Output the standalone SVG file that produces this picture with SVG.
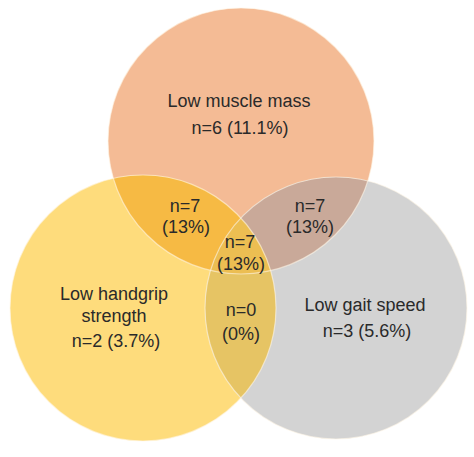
<svg xmlns="http://www.w3.org/2000/svg" width="474" height="457" viewBox="0 0 474 457">
<style>
text{font-family:"Liberation Sans",Arial,sans-serif;font-size:18px;fill:#2a2a2a;text-anchor:middle}
.edge{fill:none;stroke:#fff6e8;stroke-opacity:0.6;stroke-width:1.2}
</style>
<defs>
<clipPath id="clipA"><circle cx="241" cy="141" r="133"/></clipPath>
<clipPath id="clipB"><circle cx="143" cy="308" r="133"/></clipPath>
</defs>
<rect width="474" height="457" fill="#ffffff"/>
<g id="regions">
<circle id="mass" cx="241" cy="141" r="133" fill="#F4BB95"/>
<circle id="grip" cx="143" cy="308" r="133" fill="#FEDC7C"/>
<circle id="gait" cx="336" cy="308" r="131" fill="#D3D3D3"/>
<circle cx="143" cy="308" r="133" fill="#F6BA44" clip-path="url(#clipA)"/>
<circle cx="336" cy="308" r="131" fill="#C9A999" clip-path="url(#clipA)"/>
<circle cx="336" cy="308" r="131" fill="#E6C464" clip-path="url(#clipB)"/>
<g clip-path="url(#clipA)"><circle cx="336" cy="308" r="131" fill="#ECBE52" clip-path="url(#clipB)"/></g>
<circle class="edge" cx="241" cy="141" r="133"/>
<circle class="edge" cx="143" cy="308" r="133"/>
<circle class="edge" cx="336" cy="308" r="131"/>
</g>
<g id="labels">
<text x="239" y="107">Low muscle mass</text>
<text x="240" y="134">n=6 (11.1%)</text>
<text x="185" y="212">n=7</text>
<text x="186" y="233">(13%)</text>
<text x="310" y="212">n=7</text>
<text x="310" y="233">(13%)</text>
<text x="240" y="248">n=7</text>
<text x="241" y="270">(13%)</text>
<text x="241" y="316">n=0</text>
<text x="241" y="340">(0%)</text>
<text x="114" y="300">Low handgrip</text>
<text x="114" y="322">strength</text>
<text x="116" y="347">n=2 (3.7%)</text>
<text x="365" y="311">Low gait speed</text>
<text x="367" y="337">n=3 (5.6%)</text>
</g>
</svg>
